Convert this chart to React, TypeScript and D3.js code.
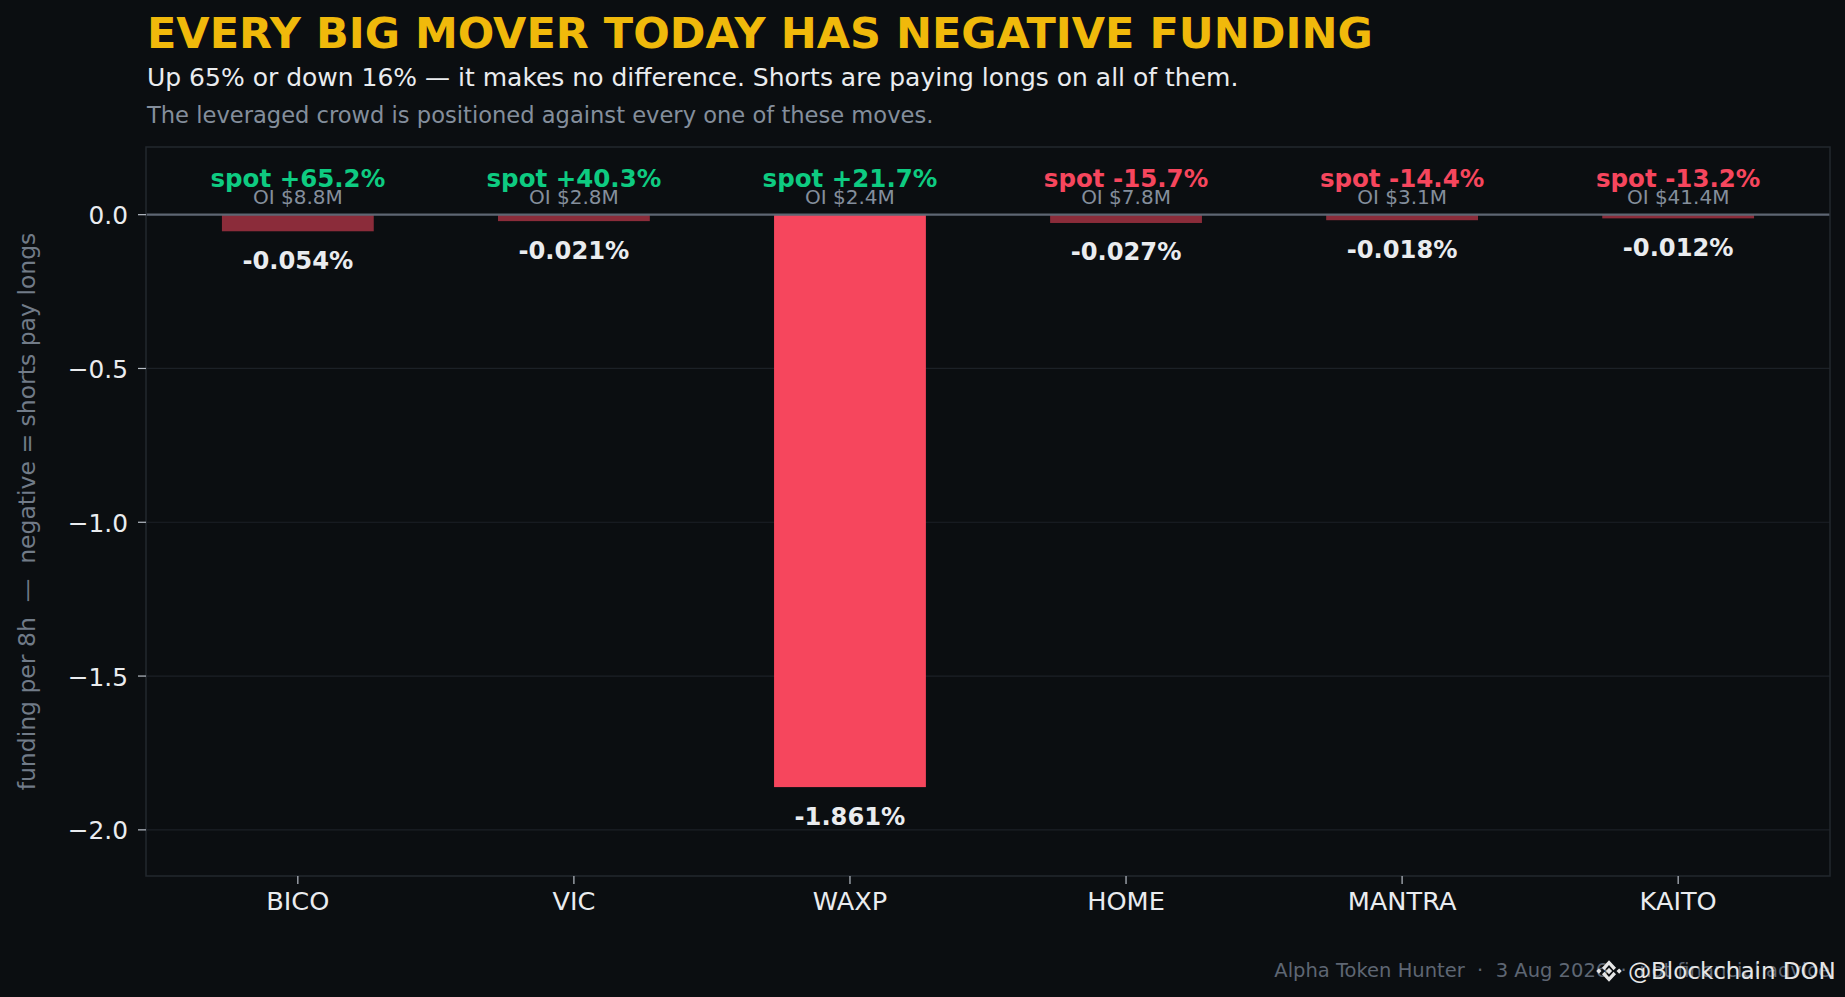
import React, { useEffect } from "react";
import * as d3 from "d3";

// funding per 8h, in percent
const coins = ["BICO", "VIC", "WAXP", "HOME", "MANTRA", "KAITO"];
const funding = [-0.054, -0.021, -1.861, -0.027, -0.018, -0.012];
const spotMove = [65.2, 40.3, 21.7, -15.7, -14.4, -13.2];
const openInterest = [8.8, 2.8, 2.4, 7.8, 3.1, 41.4];
const yTicks = [0, -0.5, -1, -1.5, -2];

const width = 1845;
const height = 997;
const margin = { top: 147, right: 15, bottom: 121, left: 146 };

const BG = "#0b0e11";
const RED = "#f6465d";
const RED_DIM = "#8b2c3a";
const GREEN = "#0ecb81";
const TEXT = "#eaecef";
const MUTED = "#848e9c";
const FONT = "DejaVu Sans, Verdana, sans-serif";

function BinanceMark({ cx, cy, s }: { cx: number; cy: number; s: number }) {
  // rough binance diamond glyph, s = half size
  const d = (x: number, y: number, r: number) =>
    `M${x},${y - r}L${x + r},${y}L${x},${y + r}L${x - r},${y}Z`;
  const u = s / 4;
  const chevron = (dir: number) =>
    `M${cx - 2 * u},${cy + dir * 0.9 * u}L${cx},${cy + dir * 3.1 * u}` +
    `L${cx + 2 * u},${cy + dir * 0.9 * u}L${cx + 1.3 * u},${cy + dir * 0.2 * u}` +
    `L${cx},${cy + dir * 1.7 * u}L${cx - 1.3 * u},${cy + dir * 0.2 * u}Z`;
  return (
    <g fill="#e6e6e6">
      <path d={d(cx, cy, u * 0.9)} />
      <path d={d(cx - 2.9 * u, cy, u * 0.75)} />
      <path d={d(cx + 2.9 * u, cy, u * 0.75)} />
      <path d={chevron(-1)} />
      <path d={chevron(1)} />
    </g>
  );
}

export default function App() {
  useEffect(() => {
    document.body.style.margin = "0";
    document.body.style.background = BG;
  }, []);

  const x = d3
    .scaleLinear()
    .domain([-0.55, coins.length - 1 + 0.55])
    .range([margin.left, width - margin.right]);
  const y = d3
    .scaleLinear()
    .domain([0.22, -2.15])
    .range([margin.top, height - margin.bottom]);

  const barW = x(0.55) - x(0);
  const maxIdx = d3.minIndex(funding);
  const left = margin.left;
  const right = width - margin.right;
  const top = margin.top;
  const bottom = height - margin.bottom;
  const fmtTick = (v: number) => (v === 0 ? "0.0" : "\u2212" + Math.abs(v).toFixed(1));

  return (
    <svg
      width={width}
      height={height}
      style={{ display: "block", background: BG, fontFamily: FONT }}
    >
      <rect width={width} height={height} fill={BG} />

      {/* header */}
      <text x={147} y={48} fill="#f0b90b" fontSize={43} fontWeight="bold">
        EVERY BIG MOVER TODAY HAS NEGATIVE FUNDING
      </text>
      <text x={147} y={86} fill={TEXT} fontSize={25}>
        Up 65% or down 16% — it makes no difference. Shorts are paying longs on all of them.
      </text>
      <text x={147} y={123} fill={MUTED} fontSize={22.6}>
        The leveraged crowd is positioned against every one of these moves.
      </text>

      {/* grid */}
      {yTicks.map((t) => (
        <line key={"g" + t} x1={left} x2={right} y1={y(t)} y2={y(t)} stroke="#1c2127" strokeWidth={1.2} />
      ))}

      {/* bars */}
      {funding.map((v, i) => (
        <rect
          key={coins[i]}
          x={x(i) - barW / 2}
          y={y(0)}
          width={barW}
          height={y(v) - y(0)}
          fill={i === maxIdx ? RED : RED_DIM}
        />
      ))}

      {/* zero line */}
      <line x1={left} x2={right} y1={y(0)} y2={y(0)} stroke="#5e6673" strokeWidth={2.2} />

      {/* frame */}
      <rect x={left} y={top} width={right - left} height={bottom - top} fill="none" stroke="#23282e" strokeWidth={1.5} />

      {/* y axis */}
      {yTicks.map((t) => (
        <g key={"t" + t}>
          <line x1={left - 8} x2={left} y1={y(t)} y2={y(t)} stroke="#b7bdc6" strokeWidth={1.2} />
          <text x={left - 18} y={y(t) + 9.5} textAnchor="end" fill={TEXT} fontSize={24.8}>
            {fmtTick(t)}
          </text>
        </g>
      ))}
      <text
        transform={`translate(35, ${(top + bottom) / 2}) rotate(-90)`}
        textAnchor="middle"
        fill="#717b88"
        fontSize={23.5}
        xmlSpace="preserve"
      >
        {"funding per 8h  —  negative = shorts pay longs"}
      </text>

      {/* x axis */}
      {coins.map((c, i) => (
        <g key={"x" + c}>
          <line x1={x(i)} x2={x(i)} y1={bottom} y2={bottom + 8} stroke="#b7bdc6" strokeWidth={1.2} />
          <text x={x(i)} y={910} textAnchor="middle" fill={TEXT} fontSize={25.6}>
            {c}
          </text>
        </g>
      ))}

      {/* annotations */}
      {coins.map((c, i) => (
        <g key={"a" + c} textAnchor="middle">
          <text x={x(i)} y={187} fill={spotMove[i] >= 0 ? GREEN : RED} fontSize={24.5} fontWeight="bold">
            {`spot ${spotMove[i] >= 0 ? "+" : "-"}${Math.abs(spotMove[i]).toFixed(1)}%`}
          </text>
          <text x={x(i)} y={204} fill={MUTED} fontSize={20}>
            {`OI $${openInterest[i].toFixed(1)}M`}
          </text>
          <text x={x(i)} y={y(funding[i]) + 37.5} fill={TEXT} fontSize={24.2} fontWeight="bold">
            {`${funding[i].toFixed(3)}%`}
          </text>
        </g>
      ))}

      {/* footer */}
      <text x={right} y={977} textAnchor="end" fill="#5e6673" fontSize={19.5} xmlSpace="preserve">
        {"Alpha Token Hunter  ·  3 Aug 2026  ·  not financial advice"}
      </text>

      {/* watermark */}
      <BinanceMark cx={1609} cy={971} s={14} />
      <text x={1628} y={979} fill="#e6e6e6" fontSize={23}>
        @Blockchain DON
      </text>
    </svg>
  );
}
